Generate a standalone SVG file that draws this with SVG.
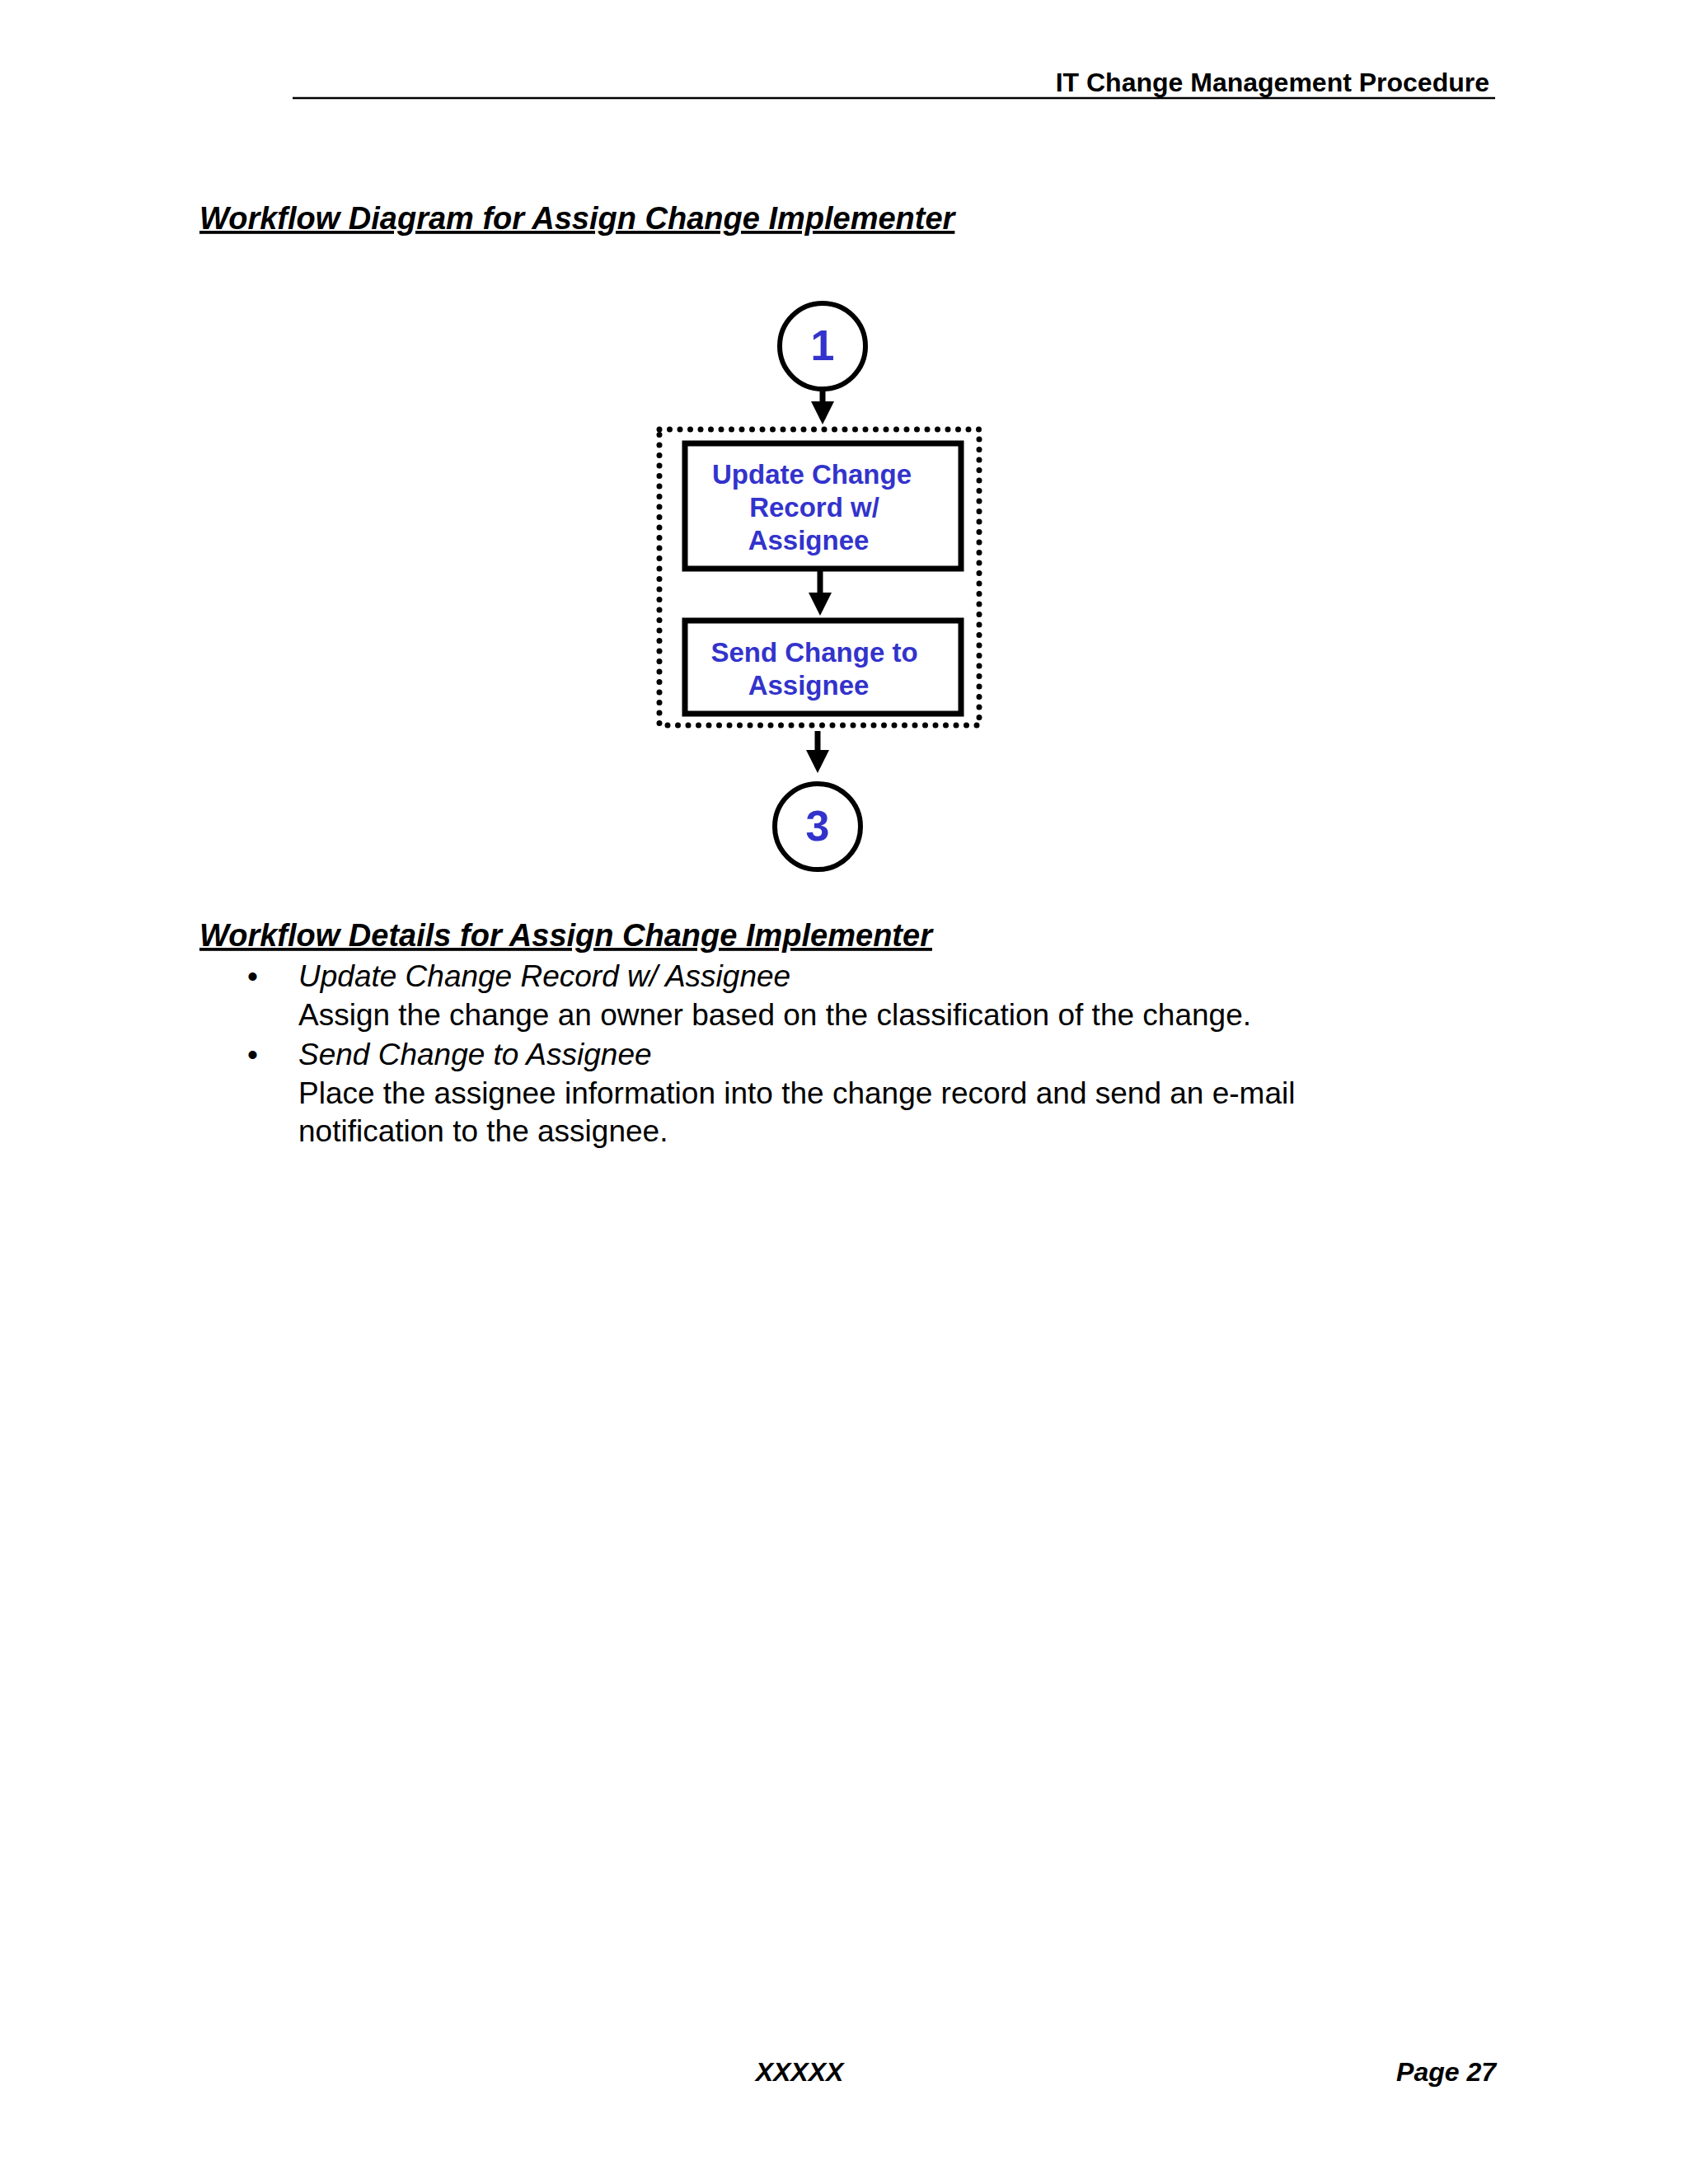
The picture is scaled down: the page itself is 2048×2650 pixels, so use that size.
<svg xmlns="http://www.w3.org/2000/svg" width="2048" height="2650" viewBox="0 0 2048 2650">
<defs>
<marker id="ah" markerWidth="4" markerHeight="4" refX="3" refY="2" orient="auto" markerUnits="strokeWidth"><path d="M0,0 L4,2 L0,4 z" fill="#000"/></marker>
<style>
.t{font-family:"Liberation Sans",Arial,sans-serif;fill:#000}
.b{font-family:"Liberation Sans",Arial,sans-serif;font-weight:bold;fill:#3333cc;text-anchor:middle}
.box{fill:none;stroke:#000;stroke-width:7}
.cn{stroke:#000;stroke-width:7;fill:none;marker-end:url(#ah)}
</style>
</defs>
<rect width="2048" height="2650" fill="#fff"/>
<text class="t" x="1807" y="111" font-size="32" font-weight="bold" text-anchor="end">IT Change Management Procedure</text>
<line x1="355" y1="119" x2="1814" y2="119" stroke="#000" stroke-width="2.5"/>
<text class="t" x="242" y="278" font-size="38" font-weight="bold" font-style="italic" text-decoration="underline">Workflow Diagram for Assign Change Implementer</text>
<g id="c1"><circle cx="998" cy="420" r="52" fill="#fff" stroke="#000" stroke-width="6"/><text class="b" x="998" y="437" font-size="52">1</text></g>
<g id="group"><rect x="800" y="521" width="388" height="359" fill="none" stroke="#000" stroke-width="7" stroke-dasharray="0 12.5" stroke-linecap="round"/></g>
<g id="n1"><rect class="box" x="831" y="538" width="335" height="152"/>
<text class="b" x="985" y="587" font-size="33">Update Change</text>
<text class="b" x="988" y="627" font-size="33">Record w/</text>
<text class="b" x="981" y="667" font-size="33">Assignee</text></g>
<g id="n2"><rect class="box" x="831" y="753" width="335" height="113"/>
<text class="b" x="988" y="803" font-size="33">Send Change to</text>
<text class="b" x="981" y="843" font-size="33">Assignee</text></g>
<g id="c3"><circle cx="992" cy="1003" r="52" fill="#fff" stroke="#000" stroke-width="6"/><text class="b" x="992" y="1020" font-size="52">3</text></g>
<g id="connectors">
<line class="cn" x1="998" y1="473" x2="998" y2="508"/>
<line class="cn" x1="995" y1="692" x2="995" y2="740"/>
<line class="cn" x1="992" y1="887" x2="992" y2="931"/>
</g>
<text class="t" x="242" y="1148" font-size="38" font-weight="bold" font-style="italic" text-decoration="underline">Workflow Details for Assign Change Implementer</text>
<g class="t" font-size="37">
<text x="300" y="1197">•</text>
<text x="362" y="1197" font-style="italic">Update Change Record w/ Assignee</text>
<text x="362" y="1244">Assign the change an owner based on the classification of the change.</text>
<text x="300" y="1292">•</text>
<text x="362" y="1292" font-style="italic">Send Change to Assignee</text>
<text x="362" y="1339">Place the assignee information into the change record and send an e-mail</text>
<text x="362" y="1385">notification to the assignee.</text>
</g>
<text class="t" x="970" y="2525" font-size="32" font-weight="bold" font-style="italic" text-anchor="middle">XXXXX</text>
<text class="t" x="1815" y="2525" font-size="32" font-weight="bold" font-style="italic" text-anchor="end">Page 27</text>
</svg>
